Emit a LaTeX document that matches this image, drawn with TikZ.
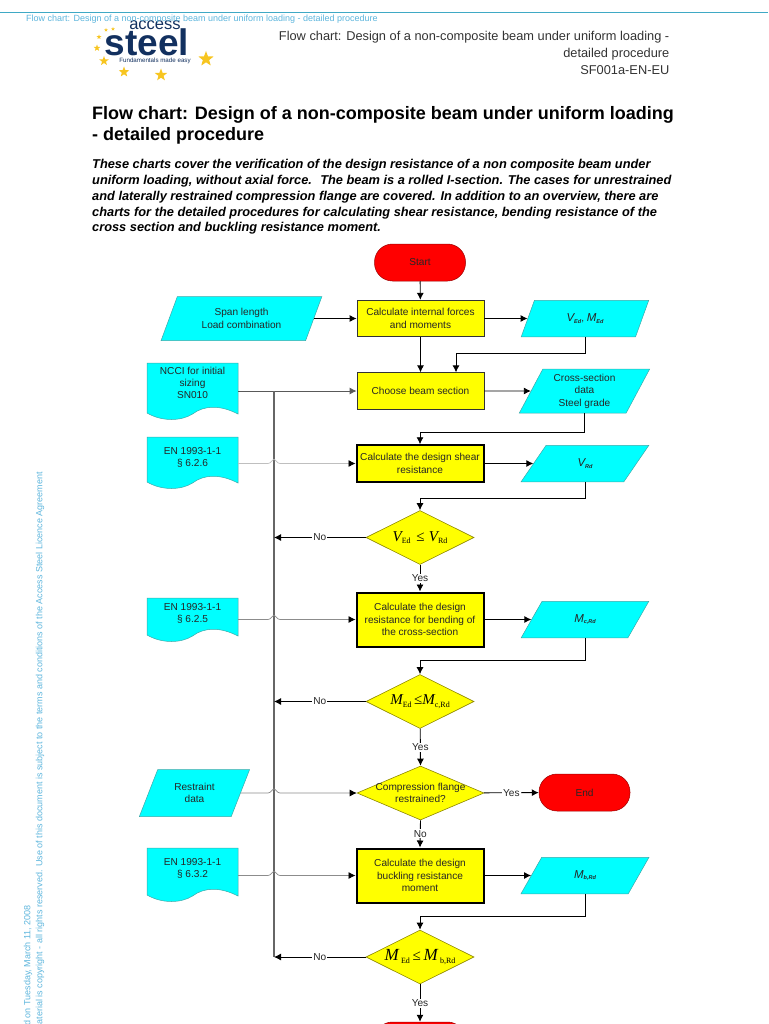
\documentclass[tikz,border=0pt]{standalone}
\usepackage{fontspec}
\setmainfont{Liberation Sans}
\newfontfamily\serifvar{Liberation Serif}
\usetikzlibrary{calc,arrows.meta,shapes.geometric}
\definecolor{headblue}{HTML}{5DB5DC}
\definecolor{rulecol}{HTML}{3FA9C5}
\definecolor{logonavy}{HTML}{12305F}
\definecolor{starcol}{HTML}{F7C520}
\definecolor{datacyan}{HTML}{00FFFF}
\definecolor{databorder}{HTML}{3FA8A8}
\definecolor{boxyellow}{HTML}{FFFF00}
\definecolor{boxred}{HTML}{FF0000}
\tikzset{
  >={Latex[length=7pt,width=7pt]},
  boxtext/.style={font=\fontsize{10.1}{12.4}\selectfont, align=center, text=black!85},
  process/.style={boxtext, rectangle, draw=black!80, line width=0.8pt, fill=boxyellow,
    minimum width=127, minimum height=36.5, inner sep=0pt},
  bigprocess/.style={process, draw=black, line width=2pt},
  datum/.style={boxtext, trapezium, trapezium stretches=true, trapezium left angle=63,
    trapezium right angle=117, fill=datacyan, draw=databorder, line width=0.5pt,
    minimum width=128, minimum height=36.5, inner sep=0pt},
  docbox/.style={boxtext, rectangle, anchor=north, minimum width=91, inner sep=0pt, inner ysep=2pt},
  docfill/.style={fill=datacyan, draw=databorder, line width=0.5pt},
  guard/.style={diamond, fill=boxyellow, draw=olive, line width=0.6pt, inner sep=0pt,
    minimum width=108, minimum height=54},
  terminal/.style={boxtext, rectangle, rounded corners=18pt, fill=boxred, draw=boxred!60!black,
    line width=0.5pt, minimum width=91, minimum height=37, inner sep=0pt},
  line/.style={draw=black, line width=0.9pt, ->},
  feed/.style={line width=0.7pt, -{Latex[black,length=7pt,width=7pt]}},
  answer/.style={midway, fill=white, inner sep=1pt, font=\fontsize{10.1}{11}\selectfont, text=black!85},
}
% doc shape: x, y of top corner, height of its straight edge
\newcommand{\docpath}[3]{
  \path[docfill] (#1-45.5,#2) -- (#1+45.5,#2) -- (#1+45.5,#2+#3+1)
    .. controls (#1+28,#2+#3-8) and (#1+12,#2+#3-8) .. (#1,#2+#3+1)
    .. controls (#1-11,#2+#3+8) and (#1-30,#2+#3+9) .. (#1-45.5,#2+#3) -- cycle;
}
\newcommand{\pvar}[2]{{\fontsize{11.5}{12}\selectfont\itshape #1\raisebox{-1.5pt}{\fontsize{5.5}{6}\selectfont\bfseries #2}}}
\newcommand{\dvar}[3]{{\serifvar\fontsize{#1}{#1}\selectfont\itshape #2\raisebox{-2.5pt}{\fontsize{8}{8}\selectfont\upshape #3}}}

\begin{document}
\begin{tikzpicture}[x=1pt,y=-1pt]
  \useasboundingbox (0,0) rectangle (768,1024);

  % page header and logo
  \draw[rulecol, line width=0.8pt] (0,12.5) -- (768,12.5);
  \node (logosteel) at (147,42) [font=\bfseries\fontsize{37}{37}\selectfont, text=logonavy, inner sep=0pt] {steel};
  \node (logoaccess) at (155,25) [font=\fontsize{16.5}{17}\selectfont, text=logonavy, inner sep=0pt] {access};
  \node (logotag) at (155,61) [font=\fontsize{6.2}{7}\selectfont, text=logonavy, inner sep=0pt] {Fundamentals made easy};
  \foreach \sx/\sy/\sz [count=\i] in {206/59/16, 161/75/13, 124/72/11, 104/61/10, 97/48/7, 99/37/5, 106/30/4, 113/29/4}
    \node[star, star points=5, star point ratio=2.4, fill=starcol, inner sep=0pt, minimum size=\sz] (logostar\i) at (\sx,\sy) {};
  \node (runhead) at (26,19) [anchor=west, inner sep=0pt, text=headblue, font=\fontsize{9}{10}\selectfont]
    {Flow chart: Design of a non-composite beam under uniform loading - detailed procedure};
  \node (dochead) at (669.5,53) [anchor=east, align=right, inner sep=0pt, text=black!80, font=\fontsize{12.8}{16.6}\selectfont]
    {Flow chart: Design of a non-composite beam under uniform loading -\\detailed procedure\\SF001a-EN-EU};
  \node (sideone) at (28,905) [rotate=90, anchor=east, inner sep=0pt, text=headblue, font=\fontsize{9}{10}\selectfont]
    {d on Tuesday, March 11, 2008};
  \node (sidetwo) at (40,472) [rotate=90, anchor=east, inner sep=0pt, text=headblue, font=\fontsize{9}{10}\selectfont]
    {aterial is copyright - all rights reserved. Use of this document is subject to the terms and conditions of the Access Steel Licence Agreement};

  % title and intro
  \node (title) at (92,125) [anchor=west, align=left, inner sep=0pt, font=\bfseries\fontsize{18}{21}\selectfont]
    {Flow chart: Design of a non-composite beam under uniform loading\\- detailed procedure};
  \node (intro) at (92,197) [anchor=west, align=left, inner sep=0pt, font=\bfseries\itshape\fontsize{12.8}{15.8}\selectfont]
    {These charts cover the verification of the design resistance of a non composite beam under\\
     uniform loading, without axial force.~ The beam is a rolled I-section. The cases for unrestrained\\
     and laterally restrained compression flange are covered. In addition to an overview, there are\\
     charts for the detailed procedures for calculating shear resistance, bending resistance of the\\
     cross section and buckling resistance moment.};

  % centre column
  \node (start) at (420,262.5) [terminal] {Start};
  \node (forces) at (420.5,318.5) [process] {Calculate internal forces\\and moments};
  \node (beam) at (420.5,391) [process] {Choose beam section};
  \node (shear) at (420,463.5) [bigprocess] {Calculate the design shear\\resistance};
  \node (guardv) at (420,537.5) [guard, label={center:\dvar{15}{V}{Ed}\,{\serifvar\fontsize{15}{15}\selectfont\;≤\;}\dvar{15}{V}{Rd}}] {};
  \node (bending) at (420,619.5) [bigprocess, minimum height=54] {Calculate the design\\resistance for bending of\\the cross-section};
  \node (guardm) at (420,701.5) [guard, label={center:\dvar{15}{M}{Ed}{\serifvar\fontsize{15}{15}\selectfont\,≤}\dvar{15}{M}{c,Rd}}] {};
  \node (flange) at (420.5,793) [guard, minimum width=127, label={[boxtext]center:Compression flange\\restrained?}] {};
  \node (buckling) at (420,875.5) [bigprocess, minimum height=54] {Calculate the design\\buckling resistance\\moment};
  \node (guardb) at (420,957) [guard, label={center:\dvar{17}{M}{\;Ed}\;{\serifvar\fontsize{15}{15}\selectfont≤}\;\dvar{17}{M}{\;b,Rd}}] {};
  \node (stop) at (420,1040.5) [terminal] {};
  \node (finish) at (584.5,792.5) [terminal] {End};

  % right column
  \node (ved) at (585,318.5) [datum] {\pvar{V}{Ed}, \pvar{M}{Ed}};
  \node (section) at (584.5,391) [datum, minimum width=131, minimum height=44] {Cross-section\\data\\Steel grade};
  \node (vrd) at (585,463.5) [datum] {\pvar{V}{Rd}};
  \node (mcrd) at (585,619.5) [datum] {\pvar{M}{c,Rd}};
  \node (mbrd) at (585,875.5) [datum] {\pvar{M}{b,Rd}};

  % left column
  \node (span) at (241.5,318.5) [datum, minimum width=161, minimum height=44] {Span length\\Load combination};
  \node (restraint) at (194.5,793) [datum, minimum width=111, minimum height=47] {Restraint\\data};
  \docpath{192.5}{363}{50}
  \docpath{192.5}{437}{45}
  \docpath{192.5}{598}{37}
  \docpath{192.5}{848}{47}
  \node (ncci) at (192.5,364.5) [docbox] {NCCI for initial\\sizing\\SN010};
  \node (enshear) at (192.5,445) [docbox] {EN 1993-1-1\\§ 6.2.6};
  \node (enbend) at (192.5,601) [docbox] {EN 1993-1-1\\§ 6.2.5};
  \node (enbuck) at (192.5,856) [docbox] {EN 1993-1-1\\§ 6.3.2};

  % main flow
  \draw[line] (start) -- (forces);
  \draw[line] (span) -- (forces);
  \draw[line] (forces) -- (ved);
  \draw[line] (forces) -- (beam);
  \coordinate (backved) at (456,353);
  \draw[line] (ved.south) |- (backved) -- (backved |- beam.north);
  \draw[line] (beam) -- (section);
  \coordinate (backsec) at (420,432);
  \draw[line] (section.south) |- (backsec) -- (shear.north);
  \draw[line] (shear) -- (vrd);
  \coordinate (backv) at (420,498);
  \draw[line] (vrd.south) |- (backv) -- (guardv.north);
  \draw[line] (guardv) -- (bending) node[answer] {Yes};
  \draw[line] (bending) -- (mcrd);
  \coordinate (backm) at (420,660);
  \draw[line] (mcrd.south) |- (backm) -- (guardm.north);
  \draw[line] (guardm) -- (flange.north) node[answer] {Yes};
  \draw[line] (flange) -- (finish) node[answer] {Yes};
  \draw[line] (flange.south) -- (buckling.north) node[answer] {No};
  \draw[line] (buckling) -- (mbrd);
  \coordinate (backb) at (420,916);
  \draw[line] (mbrd.south) |- (backb) -- (guardb.north);
  \draw[line] (guardb) -- (stop.north) node[answer] {Yes};

  % common rail to the left of the column
  \coordinate (trunk) at (274,391);
  \draw[line, draw=black!65] (ncci.east |- beam.west) -- (beam.west);
  \draw[draw=black!60, line width=1.5pt] (trunk) -- (trunk |- guardb.west);
  \foreach \g in {guardv,guardm,guardb}
    \draw[line] (\g) -- (trunk |- \g.west) node[answer] {No};

  % references hopping over the rail
  \foreach \src/\dst/\shade in {enshear/shear/25,enbend/bending/45,restraint/flange/45,enbuck/buckling/45} {
    \coordinate (hop) at (trunk |- \dst.west);
    \draw[feed, draw=black!\shade] (\src.east |- \dst.west) -- ($(hop)+(-6,0)$)
      .. controls +(3,0) and +(-2,0) .. ($(hop)+(0,-4)$)
      .. controls +(2,0) and +(-3,0) .. ($(hop)+(6,0)$) -- (\dst.west);
  }
\end{tikzpicture}
\end{document}
